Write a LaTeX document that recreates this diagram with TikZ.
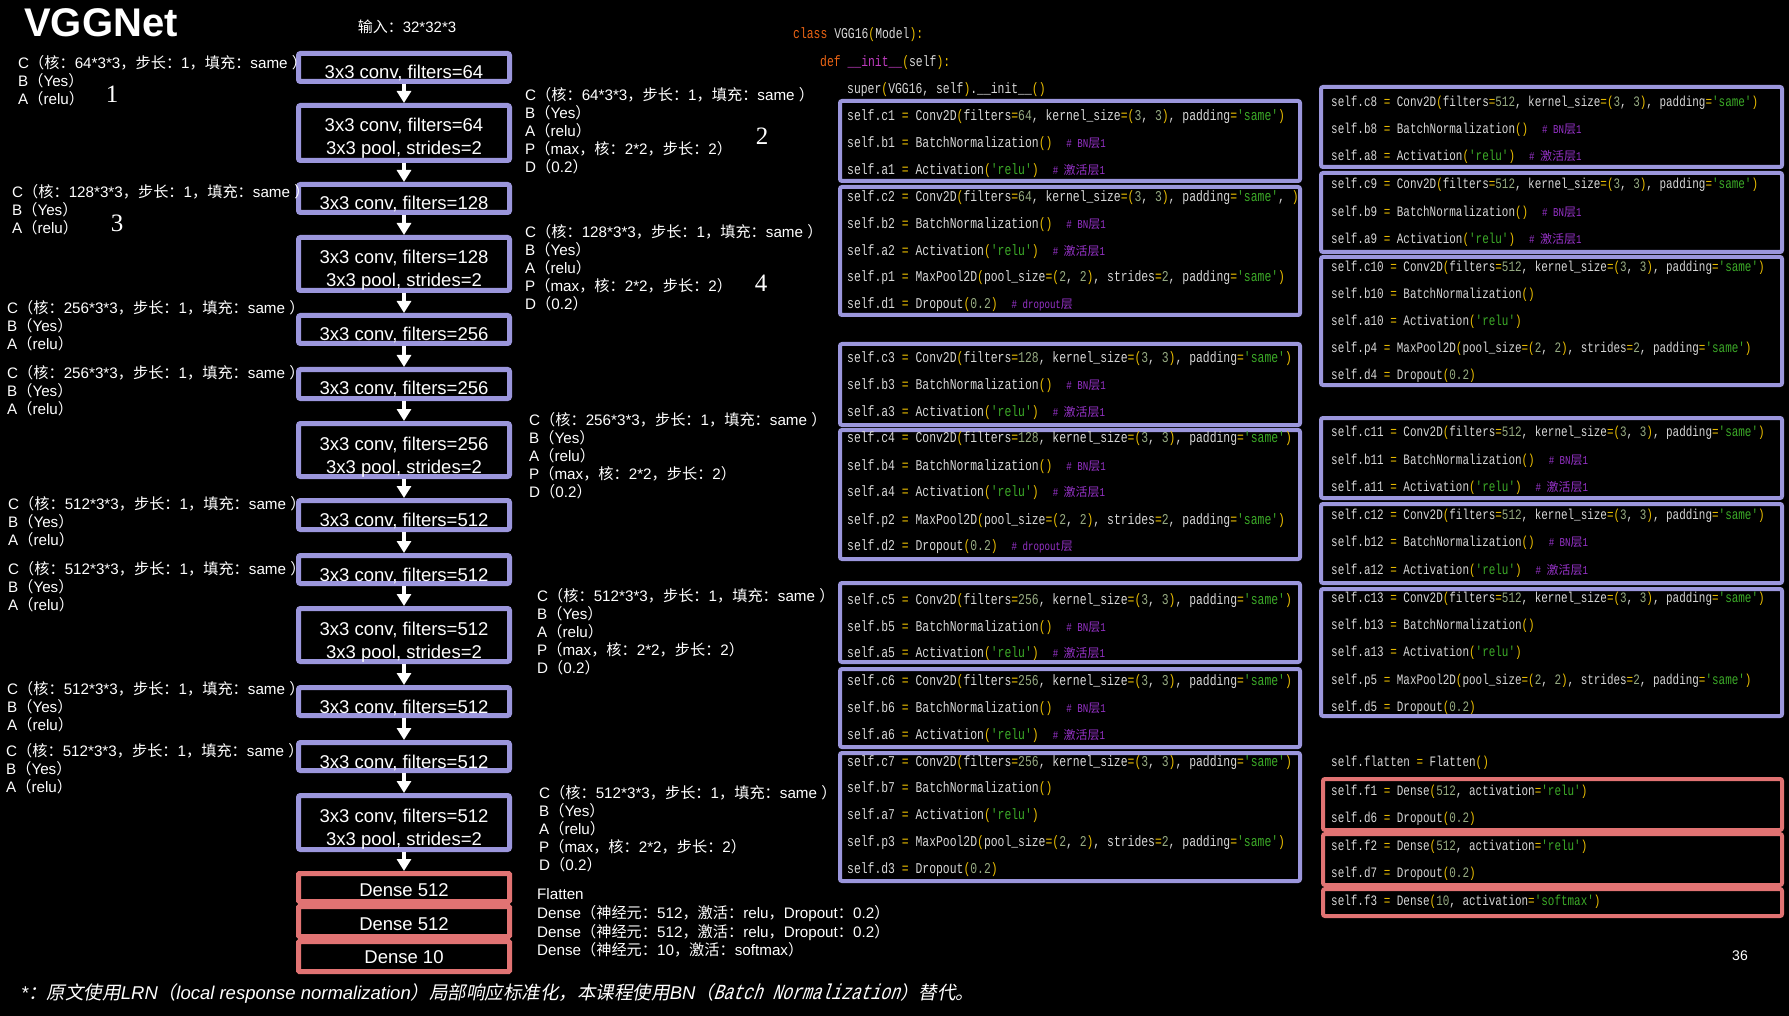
\documentclass[tikz,border=0pt]{standalone}
\usepackage{fontspec}
\setmainfont{Liberation Sans}
\setmonofont{Liberation Mono}[FakeStretch=0.76]
\newfontfamily\zhfont{Noto Sans CJK SC}
\newfontfamily\zhitfont{Noto Sans CJK SC}[FakeSlant=0.2]
\newfontfamily\numfont{Liberation Serif}
\newfontfamily\ttitfont{Liberation Mono}[FakeStretch=0.76,FakeSlant=0.2]
\usetikzlibrary{arrows.meta}
\definecolor{lav}{RGB}{155,150,220}
\definecolor{salmon}{RGB}{225,115,115}
\definecolor{cbase}{RGB}{215,215,215}
\definecolor{cpar}{RGB}{235,190,0}
\definecolor{cnum}{RGB}{150,170,130}
\definecolor{cstr}{RGB}{60,170,40}
\definecolor{ccom}{RGB}{150,50,200}
\definecolor{ckey}{RGB}{235,100,20}
\definecolor{cmag}{RGB}{190,60,190}
\newcommand\zh[1]{{\zhfont #1}}
\newcommand\zhit[1]{{\zhitfont #1}}
\newcommand\annC[1]{C\zh{（核：}#1\zh{，步长：}1\zh{，填充：}same \zh{）}}
\newcommand\annB{B\zh{（}Yes\zh{）}}
\newcommand\annA{A\zh{（}relu\zh{）}}
\newcommand\annP{P\zh{（}max\zh{，核：}2*2\zh{，步长：}2\zh{）}}
\newcommand\annD{D\zh{（}0.2\zh{）}}
\newcommand\cp[1]{\textcolor{cpar}{#1}}
\newcommand\cv[1]{\textcolor{cnum}{#1}}
\newcommand\cq[1]{\textcolor{cstr}{#1}}
\newcommand\cmt[1]{\hspace{14pt}\textcolor{ccom}{\fontsize{12}{12}\selectfont #1}}
\newcommand\cmBN{\cmt{\# BN\zh{层}1}}
\newcommand\cmAC{\cmt{\# \zh{激活层}1}}
\newcommand\cmDR{\cmt{\# dropout\zh{层}}}
\newcommand\convl[2]{self.#1 \cp{=} Conv2D\cp{(}filters\cp{=}\cv{#2}, kernel\_size\cp{=(}\cv{3}, \cv{3}\cp{)}, padding\cp{=}\cq{'same'}\cp{)}}
\newcommand\bnl[2]{self.#1 \cp{=} BatchNormalization\cp{()}#2}
\newcommand\actl[2]{self.#1 \cp{=} Activation\cp{(}\cq{'relu'}\cp{)}#2}
\newcommand\pooll[1]{self.#1 \cp{=} MaxPool2D\cp{(}pool\_size\cp{=(}\cv{2}, \cv{2}\cp{)}, strides\cp{=}\cv{2}, padding\cp{=}\cq{'same'}\cp{)}}
\newcommand\dropl[2]{self.#1 \cp{=} Dropout\cp{(}\cv{0.2}\cp{)}#2}
\newcommand\densel[3]{self.#1 \cp{=} Dense\cp{(}\cv{#2}, activation\cp{=}\cq{'#3'}\cp{)}}
\tikzset{
 vbox/.style={draw=lav, line width=5pt, rounded corners=2pt, minimum width=211pt, inner sep=0pt},
 dbox/.style={draw=salmon, line width=5pt, rounded corners=1pt, minimum width=211pt, inner sep=0pt},
 lbl/.style={text=white, font=\fontsize{18.5}{22}\selectfont, anchor=base, inner sep=0pt},
 arr/.style={draw=white, line width=4pt, -{Triangle[width=14pt,length=12pt]}},
 ann/.style={text=white, font=\fontsize{15.2}{18}\selectfont, align=left, anchor=west, inner sep=0pt},
 fann/.style={text=white, font=\fontsize{15.2}{18.7}\selectfont, align=left, anchor=west, inner sep=0pt},
 num/.style={text=white, font=\numfont\fontsize{25}{25}\selectfont, inner sep=0pt},
 cbox/.style={draw=lav, line width=4pt, rounded corners=2pt, minimum width=460pt, inner sep=0pt},
 cboxB/.style={draw=lav, line width=4pt, rounded corners=2pt, minimum width=461pt, inner sep=0pt},
 rbox/.style={draw=salmon, line width=4pt, rounded corners=2pt, minimum width=459pt, inner sep=0pt},
 codeA/.style={text=cbase, font=\ttfamily\fontsize{15}{15}\selectfont, anchor=west, inner sep=0pt},
 codeB/.style={text=cbase, font=\ttfamily\fontsize{14.4}{14.4}\selectfont, anchor=west, inner sep=0pt},
}
\begin{document}
\begin{tikzpicture}[x=1pt,y=-1pt]
\fill[black] (0,0) rectangle (1789,1016);
\useasboundingbox (0,0) rectangle (1789,1016);
% title
\node[text=white, font=\bfseries\fontsize{40}{40}\selectfont, anchor=base west, inner sep=0pt] (title) at (24,37) {VGGNet};
\node[text=white, font=\fontsize{15}{15}\selectfont, inner sep=0pt] (inp) at (407,27) {\zh{输入：}32*32*3};
% left column boxes
\node[vbox, minimum height=28pt] (b1) at (404,67.5) {};
\node[lbl] (t1) at (404,79) {3x3 conv, filters=64};
\node[vbox, minimum height=55pt] (b2) at (404,133) {};
\node[lbl] (t2a) at (404,132) {3x3 conv, filters=64};
\node[lbl] (t2b) at (404,155) {3x3 pool, strides=2};
\node[vbox, minimum height=28pt] (b3) at (404,198.5) {};
\node[lbl] (t3) at (404,210) {3x3 conv, filters=128};
\node[vbox, minimum height=53pt] (b4) at (404,264) {};
\node[lbl] (t4a) at (404,264) {3x3 conv, filters=128};
\node[lbl] (t4b) at (404,287) {3x3 pool, strides=2};
\node[vbox, minimum height=28pt] (b5) at (404,329.5) {};
\node[lbl] (t5) at (404,341) {3x3 conv, filters=256};
\node[vbox, minimum height=29pt] (b6) at (404,384) {};
\node[lbl] (t6) at (404,395) {3x3 conv, filters=256};
\node[vbox, minimum height=53pt] (b7) at (404,450) {};
\node[lbl] (t7a) at (404,450) {3x3 conv, filters=256};
\node[lbl] (t7b) at (404,473) {3x3 pool, strides=2};
\node[vbox, minimum height=29pt] (b8) at (404,515) {};
\node[lbl] (t8) at (404,526) {3x3 conv, filters=512};
\node[vbox, minimum height=28pt] (b9) at (404,569.5) {};
\node[lbl] (t9) at (404,581) {3x3 conv, filters=512};
\node[vbox, minimum height=53pt] (b10) at (404,635) {};
\node[lbl] (t10a) at (404,635) {3x3 conv, filters=512};
\node[lbl] (t10b) at (404,658) {3x3 pool, strides=2};
\node[vbox, minimum height=28pt] (b11) at (404,701.5) {};
\node[lbl] (t11) at (404,713) {3x3 conv, filters=512};
\node[vbox, minimum height=28pt] (b12) at (404,756.5) {};
\node[lbl] (t12) at (404,768) {3x3 conv, filters=512};
\node[vbox, minimum height=54pt] (b13) at (404,822.5) {};
\node[lbl] (t13a) at (404,822) {3x3 conv, filters=512};
\node[lbl] (t13b) at (404,845) {3x3 pool, strides=2};
\node[dbox, minimum height=28pt] (d1) at (404,887.5) {};
\node[lbl] (td1) at (404,896.5) {Dense 512};
\node[dbox, minimum height=30pt] (d2) at (404,921.5) {};
\node[lbl] (td2) at (404,930.5) {Dense 512};
\node[dbox, minimum height=30pt] (d3) at (404,956.5) {};
\node[lbl] (td3) at (404,963) {Dense 10};
% arrows
\draw[arr] (b1.south) -- (b2.north);
\draw[arr] (b2.south) -- (b3.north);
\draw[arr] (b3.south) -- (b4.north);
\draw[arr] (b4.south) -- (b5.north);
\draw[arr] (b5.south) -- (b6.north);
\draw[arr] (b6.south) -- (b7.north);
\draw[arr] (b7.south) -- (b8.north);
\draw[arr] (b8.south) -- (b9.north);
\draw[arr] (b9.south) -- (b10.north);
\draw[arr] (b10.south) -- (b11.north);
\draw[arr] (b11.south) -- (b12.north);
\draw[arr] (b12.south) -- (b13.north);
\draw[arr] (b13.south) -- (d1.north);
% left annotations
\node[ann] (a1) at (18,81) {\annC{64*3*3}\\\annB\\\annA};
\node[ann] (a3) at (12,210) {\annC{128*3*3}\\\annB\\\annA};
\node[ann] (a5) at (7,326) {\annC{256*3*3}\\\annB\\\annA};
\node[ann] (a6) at (7,391) {\annC{256*3*3}\\\annB\\\annA};
\node[ann] (a8) at (8,522) {\annC{512*3*3}\\\annB\\\annA};
\node[ann] (a9) at (8,587) {\annC{512*3*3}\\\annB\\\annA};
\node[ann] (a11) at (7,707) {\annC{512*3*3}\\\annB\\\annA};
\node[ann] (a12) at (6,769) {\annC{512*3*3}\\\annB\\\annA};
\node[num] (n1) at (112,94) {1};
\node[num] (n3) at (117,223) {3};
% middle annotations
\node[ann] (m2) at (525,131) {\annC{64*3*3}\\\annB\\\annA\\\annP\\\annD};
\node[ann] (m4) at (525,268) {\annC{128*3*3}\\\annB\\\annA\\\annP\\\annD};
\node[ann] (m7) at (529,456) {\annC{256*3*3}\\\annB\\\annA\\\annP\\\annD};
\node[ann] (m10) at (537,632) {\annC{512*3*3}\\\annB\\\annA\\\annP\\\annD};
\node[ann] (m13) at (539,829) {\annC{512*3*3}\\\annB\\\annA\\\annP\\\annD};
\node[num] (n2) at (762,136) {2};
\node[num] (n4) at (761,283) {4};
\node[fann] (fl) at (537,923) {Flatten\\Dense\zh{（神经元：}512\zh{，激活：}relu\zh{，}Dropout\zh{：}0.2\zh{）}\\Dense\zh{（神经元：}512\zh{，激活：}relu\zh{，}Dropout\zh{：}0.2\zh{）}\\Dense\zh{（神经元：}10\zh{，激活：}softmax\zh{）}};
% code header
\node[codeA] (h1) at (793,35) {\textcolor{ckey}{class} VGG16\cp{(}Model\cp{):}};
\node[codeA] (h2) at (820,63) {\textcolor{ckey}{def} \textcolor{cmag}{\_\_init\_\_}\cp{(}self\cp{):}};
\node[codeA] (h3) at (847,90) {super\cp{(}VGG16, self\cp{)}.\_\_init\_\_\cp{()}};
% code boxes column 1
\node[cbox, minimum height=80pt] (k1) at (1070,141) {};
\node[cbox, minimum height=128pt] (k2) at (1070,251) {};
\node[cbox, minimum height=81pt] (k3) at (1070,384.5) {};
\node[cbox, minimum height=129pt] (k4) at (1070,494.5) {};
\node[cbox, minimum height=79pt] (k5) at (1070,622.5) {};
\node[cbox, minimum height=78pt] (k6) at (1070,708) {};
\node[cbox, minimum height=128pt] (k7) at (1070,817) {};
\node[codeA] (l1) at (847,117) {\convl{c1}{64}};
\node[codeA] (l2) at (847,144) {\bnl{b1}{\cmBN}};
\node[codeA] (l3) at (847,171) {\actl{a1}{\cmAC}};
\node[codeA] (l4) at (847,198) {self.c2 \cp{=} Conv2D\cp{(}filters\cp{=}\cv{64}, kernel\_size\cp{=(}\cv{3}, \cv{3}\cp{)}, padding\cp{=}\cq{'same'}, \cp{)}};
\node[codeA] (l5) at (847,225) {\bnl{b2}{\cmBN}};
\node[codeA] (l6) at (847,252) {\actl{a2}{\cmAC}};
\node[codeA] (l7) at (847,278) {\pooll{p1}};
\node[codeA] (l8) at (847,305) {\dropl{d1}{\cmDR}};
\node[codeA] (l9) at (847,359) {\convl{c3}{128}};
\node[codeA] (l10) at (847,386) {\bnl{b3}{\cmBN}};
\node[codeA] (l11) at (847,413) {\actl{a3}{\cmAC}};
\node[codeA] (l12) at (847,439) {\convl{c4}{128}};
\node[codeA] (l13) at (847,467) {\bnl{b4}{\cmBN}};
\node[codeA] (l14) at (847,493) {\actl{a4}{\cmAC}};
\node[codeA] (l15) at (847,521) {\pooll{p2}};
\node[codeA] (l16) at (847,547) {\dropl{d2}{\cmDR}};
\node[codeA] (l17) at (847,601) {\convl{c5}{256}};
\node[codeA] (l18) at (847,628) {\bnl{b5}{\cmBN}};
\node[codeA] (l19) at (847,654) {\actl{a5}{\cmAC}};
\node[codeA] (l20) at (847,682) {\convl{c6}{256}};
\node[codeA] (l21) at (847,709) {\bnl{b6}{\cmBN}};
\node[codeA] (l22) at (847,736) {\actl{a6}{\cmAC}};
\node[codeA] (l23) at (847,763) {\convl{c7}{256}};
\node[codeA] (l24) at (847,789) {\bnl{b7}{}};
\node[codeA] (l25) at (847,816) {\actl{a7}{}};
\node[codeA] (l26) at (847,843) {\pooll{p3}};
\node[codeA] (l27) at (847,870) {\dropl{d3}{}};
% code boxes column 2
\node[cboxB, minimum height=80pt] (k8) at (1551.5,127) {};
\node[cboxB, minimum height=79pt] (k9) at (1551.5,212.5) {};
\node[cboxB, minimum height=128pt] (k10) at (1551.5,321) {};
\node[cboxB, minimum height=80pt] (k11) at (1551.5,458) {};
\node[cboxB, minimum height=79pt] (k12) at (1551.5,543.5) {};
\node[cboxB, minimum height=127pt] (k13) at (1551.5,652.5) {};
\node[rbox, minimum height=51pt] (r1) at (1552.5,804.5) {};
\node[rbox, minimum height=51pt] (r2) at (1552.5,859.5) {};
\node[rbox, minimum height=27pt] (r3) at (1552.5,902.5) {};
\node[codeB] (q1) at (1331,103) {\convl{c8}{512}};
\node[codeB] (q2) at (1331,130) {\bnl{b8}{\cmBN}};
\node[codeB] (q3) at (1331,157) {\actl{a8}{\cmAC}};
\node[codeB] (q4) at (1331,185) {\convl{c9}{512}};
\node[codeB] (q5) at (1331,213) {\bnl{b9}{\cmBN}};
\node[codeB] (q6) at (1331,240) {\actl{a9}{\cmAC}};
\node[codeB] (q7) at (1331,268) {\convl{c10}{512}};
\node[codeB] (q8) at (1331,295) {\bnl{b10}{}};
\node[codeB] (q9) at (1331,322) {\actl{a10}{}};
\node[codeB] (q10) at (1331,349) {\pooll{p4}};
\node[codeB] (q11) at (1331,376) {\dropl{d4}{}};
\node[codeB] (q12) at (1331,433) {\convl{c11}{512}};
\node[codeB] (q13) at (1331,461) {\bnl{b11}{\cmBN}};
\node[codeB] (q14) at (1331,488) {\actl{a11}{\cmAC}};
\node[codeB] (q15) at (1331,516) {\convl{c12}{512}};
\node[codeB] (q16) at (1331,543) {\bnl{b12}{\cmBN}};
\node[codeB] (q17) at (1331,571) {\actl{a12}{\cmAC}};
\node[codeB] (q18) at (1331,599) {\convl{c13}{512}};
\node[codeB] (q19) at (1331,626) {\bnl{b13}{}};
\node[codeB] (q20) at (1331,653) {\actl{a13}{}};
\node[codeB] (q21) at (1331,681) {\pooll{p5}};
\node[codeB] (q22) at (1331,708) {\dropl{d5}{}};
\node[codeB] (q23) at (1331,763) {self.flatten \cp{=} Flatten\cp{()}};
\node[codeB] (q24) at (1331,792) {\densel{f1}{512}{relu}};
\node[codeB] (q25) at (1331,819) {\dropl{d6}{}};
\node[codeB] (q26) at (1331,847) {\densel{f2}{512}{relu}};
\node[codeB] (q27) at (1331,874) {\dropl{d7}{}};
\node[codeB] (q28) at (1331,902) {\densel{f3}{10}{softmax}};
% footnote and page number
\node[text=white, anchor=west, inner sep=0pt, font=\fontsize{18.5}{18.5}\selectfont\itshape] (foot) at (21,993) {*\zhit{：原文使用}LRN\zhit{（}local response normalization\zhit{）局部响应标准化，本课程使用}BN\zhit{（}{\ttitfont\fontsize{21.5}{21.5}\selectfont Batch Normalization}\zhit{）替代。}};
\node[text=white, font=\fontsize{14}{14}\selectfont, inner sep=0pt] (pg) at (1740,956) {36};
\end{tikzpicture}
\end{document}
